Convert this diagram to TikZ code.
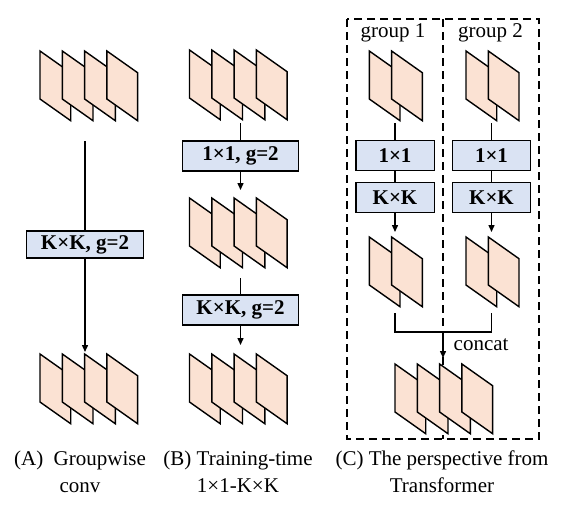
\documentclass[tikz,border=0pt]{standalone}
\usepackage{fontspec}
\setmainfont{Liberation Serif}
\usetikzlibrary{arrows.meta, positioning, calc}
\definecolor{mapfill}{HTML}{FBE2D3}
\definecolor{convfill}{HTML}{DAE3F3}

% x of the left plane, y of the top, number of planes
\newcommand{\fmaps}[3]{\foreach \k in {1,...,#3} \pic at ({#1+(\k-1)*22.3},#2) {fmap};}

\begin{document}
\begin{tikzpicture}[
        x=1pt, y=-1pt,
        font=\fontsize{21}{27}\selectfont,
        plane/.style={draw, fill=mapfill, line width=1.4pt},
        fmap/.pic={\draw[plane] (0,0) -- (0,48) -- (30.7,69.7) -- (30.7,21.7) -- cycle;},
        conv/.style={draw, fill=convfill, line width=1.3pt, inner sep=0pt, minimum height=30pt, font=\fontsize{21}{24}\selectfont\bfseries},
        line/.style={line width=1.4pt},
        arrow/.style={line width=1.4pt, -{Triangle[length=7pt, width=6pt]}},
        group/.style={draw, dash pattern=on 8pt off 5pt, line width=1.4pt},
        caption/.style={align=center, inner sep=0pt}
    ]
    \useasboundingbox (0,0) rectangle (567,507);

    % (A)
    \fmaps{40}{51}{4}
    \coordinate (a1) at (85,141);
    \node[conv, minimum width=117pt, minimum height=27pt] (ka) at (85,244.5) {K×K, g=2};
    \coordinate (a2) at (85,352);
    \draw[line] (a1) -- (ka);
    \draw[arrow] (ka) -- (a2);
    \fmaps{40}{354}{4}

    % (B)
    \fmaps{189.5}{50}{4}
    \coordinate (b1) at (240.5,123);
    \node[conv, minimum width=116.5pt] (k1) at (240.5,156) {1×1, g=2};
    \coordinate (b2) at (240.5,190);
    \fmaps{189.5}{198}{4}
    \coordinate (b3) at (240.5,278);
    \node[conv, minimum width=116.5pt] (k2) at (240.5,310) {K×K, g=2};
    \coordinate (b4) at (240.5,345);
    \fmaps{189.5}{354}{4}
    \draw[line] (b1) -- (k1);
    \draw[arrow] (k1) -- (b2);
    \draw[line] (b3) -- (k2);
    \draw[arrow] (k2) -- (b4);

    % (C)
    \draw[group] (347,19) rectangle (539,439);
    \draw[group] (443,19) -- (443,439);
    \node (g1) at (393,33) {group 1};
    \node (g2) at (490.5,33) {group 2};
    \fmaps{369.3}{51}{2}
    \fmaps{466}{51}{2}
    \coordinate (c1) at (395,123);
    \coordinate (d1) at (491.5,123);
    \node[conv, minimum width=78.3pt] (p1) at (395,155.7) {1×1};
    \node[conv, minimum width=78.3pt] (q1) at (395,197.5) {K×K};
    \node[conv, minimum width=78.3pt] (p2) at (491.5,155.7) {1×1};
    \node[conv, minimum width=78.3pt] (q2) at (491.5,197.5) {K×K};
    \coordinate (c2) at (395,232);
    \coordinate (d2) at (491.5,232);
    \draw[line] (c1) -- (p1);
    \draw[line] (p1) -- (q1);
    \draw[arrow] (q1) -- (c2);
    \draw[line] (d1) -- (p2);
    \draw[line] (p2) -- (q2);
    \draw[arrow] (q2) -- (d2);
    \fmaps{369.3}{237}{2}
    \fmaps{466}{237}{2}
    \coordinate (c3) at (395,313);
    \coordinate (d3) at (491.5,313);
    \coordinate (m) at (443,332);
    \coordinate (c4) at (443,358);
    \draw[line] (c3) |- (m) -| (d3);
    \draw[arrow] (m) -- node[right=10pt, inner sep=0pt] (cat) {concat} (c4);
    \fmaps{395}{364}{4}

    % captions
    \node[caption] (ca) at (80,471.5) {(A)\ \ Groupwise\\conv};
    \node[caption] (cb) at (238,471.5) {(B) Training-time\\1×1-K×K};
    \node[caption] (cc) at (442,471.5) {(C) The perspective from\\Transformer};
\end{tikzpicture}
\end{document}
